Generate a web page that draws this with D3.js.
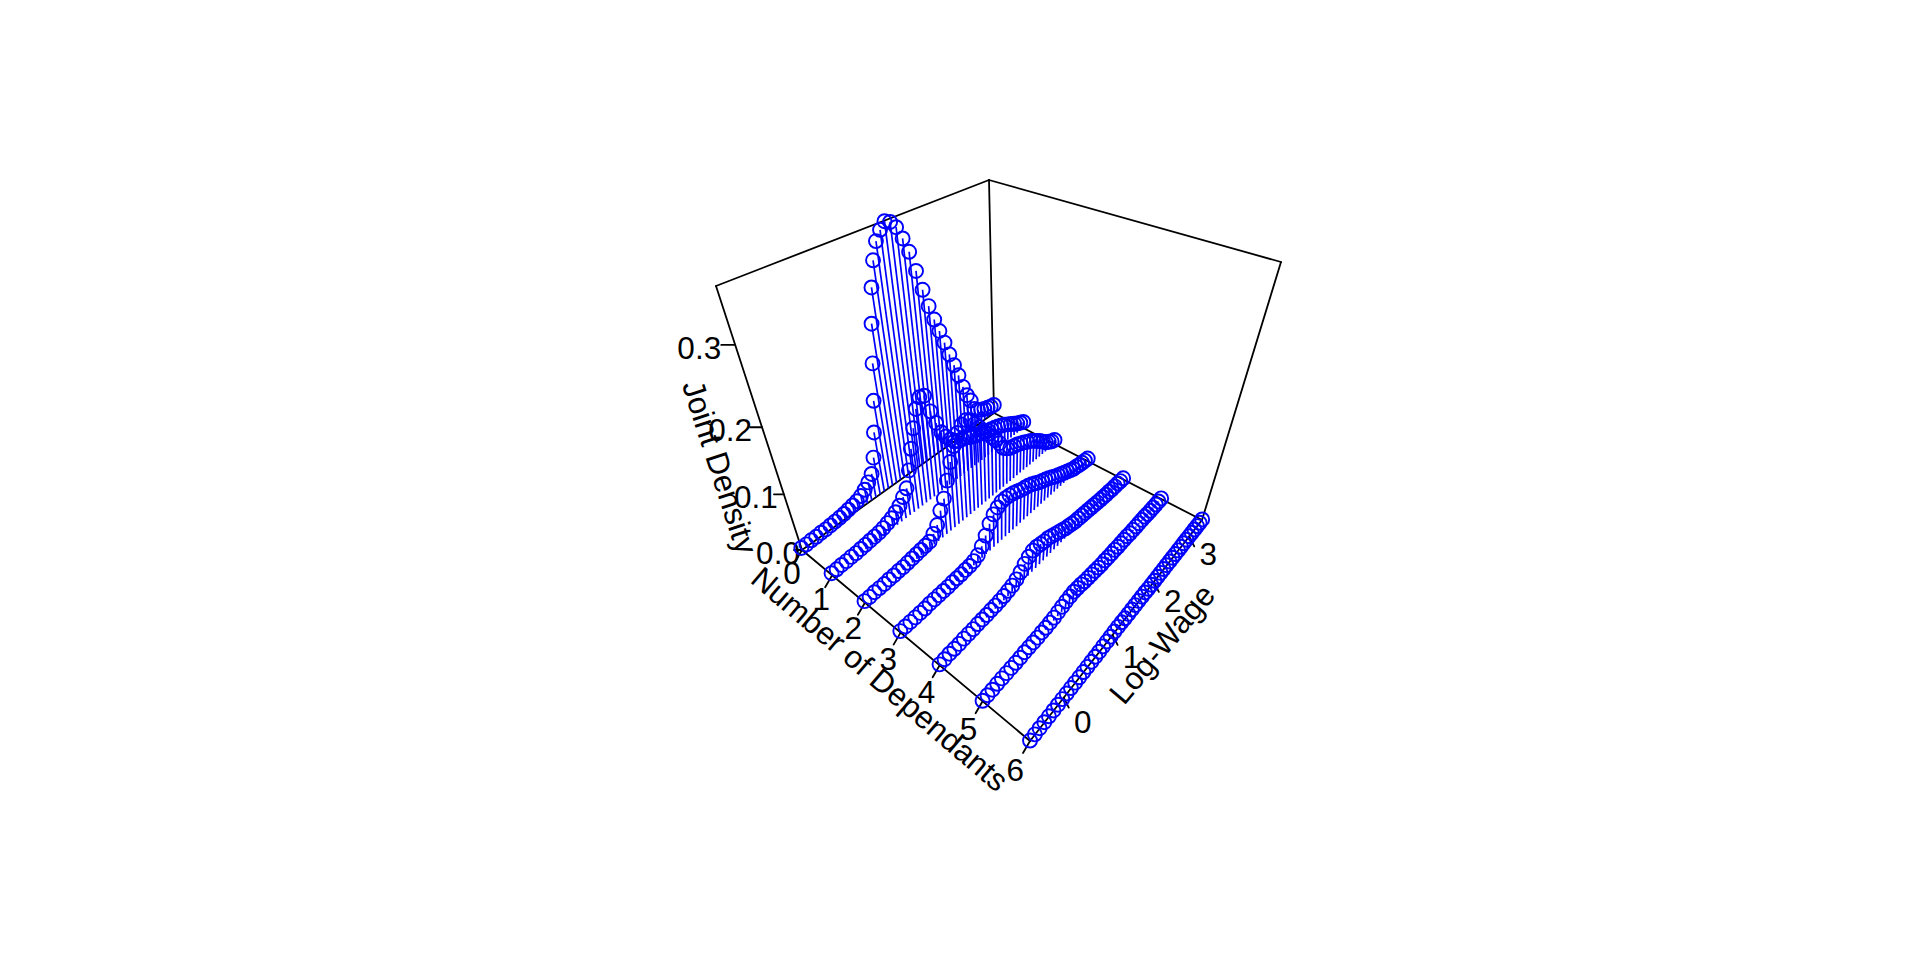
<!DOCTYPE html>
<html><head><meta charset="utf-8">
<script src="https://cdn.jsdelivr.net/npm/d3@7"></script>
<style>html,body{margin:0;padding:0;background:#fff}svg{display:block}text{font-family:"Liberation Sans",Arial,sans-serif;fill:#000}</style>
</head><body><svg id="c" width="1920" height="960"></svg>
<script>
const dependants=[0,1,2,3,4,5,6];
const density0=[.004,.004,.005,.005,.006,.006,.007,.008,.009,.010,.012,.014,.016,.02,.026,.034,.044,.068,.106,.152,.203,.253,.295,.324,.343,.353,.36,.357,.349,.334,.316,.29,.263,.238,.216,.196,.175,.153,.132,.111,.087,.068,.054,.034,.028,.024,.021,.019,.017,.016];
const density1=[.004,.004,.005,.005,.006,.006,.007,.008,.009,.01,.011,.013,.016,.019,.024,.03,.04,.05,.076,.107,.135,.16,.173,.171,.143,.12,.10,.088,.078,.07,.066,.064,.062,.058,.055,.052,.05,.048,.046,.044,.042,.04,.037,.034,.03,.026,.022,.018,.015,.012];
const density2=[.003,.003,.004,.004,.004,.005,.005,.006,.006,.007,.008,.009,.01,.011,.012,.02,.03,.05,.065,.09,.115,.135,.15,.158,.16,.155,.145,.135,.125,.115,.105,.095,.085,.072,.066,.062,.06,.058,.055,.052,.048,.045,.04,.035,.03,.024,.018,.014,.01,.008];
const density3=[.003,.003,.003,.003,.003,.003,.004,.004,.004,.004,.004,.005,.005,.005,.006,.006,.008,.012,.022,.035,.05,.06,.066,.07,.07,.069,.067,.064,.061,.059,.057,.054,.05,.046,.043,.04,.037,.033,.029,.026,.023,.02,.017,.014,.011,.01,.008,.007,.006,.005];
const density4=[.002,.002,.003,.003,.003,.004,.004,.004,.005,.005,.005,.006,.006,.007,.008,.01,.012,.016,.022,.03,.036,.04,.04,.038,.036,.035,.032,.029,.026,.023,.02,.018,.016,.014,.013,.012,.011,.01,.009,.008,.007,.006,.005,.004,.004,.003,.003,.003,.002,.002];
const density5=[.001,.001,.001,.002,.002,.002,.002,.002,.002,.003,.003,.003,.003,.004,.004,.005,.006,.008,.01,.012,.013,.014,.013,.012,.01,.009,.008,.007,.006,.005,.005,.004,.004,.004,.003,.003,.003,.003,.002,.002,.002,.002,.002,.002,.001,.001,.001,.001,.001,.001];
const density6=[.001,.001,.001,.001,.001,.001,.001,.001,.001,.001,.001,.001,.001,.001,.001,.001,.001,.002,.002,.002,.003,.003,.003,.002,.002,.002,.002,.002,.002,.002,.001,.001,.001,.001,.001,.001,.001,.001,.001,.001,.001,.001,.001,.001,.001,.001,.001,.001,.001,.001];
const densities=[density0,density1,density2,density3,density4,density5,density6];
const wageTicks=[0,1,2,3];
const densityTicks=[0,0.1,0.2,0.3];
const wageRange=[-0.6,3.4];
const densityMax=0.36;

const A=[802,550],B=[1030,741],C=[1202,520],D=[994,413];
const At=[716,286],Ct=[1281,262],Dt=[989,180];

const sDep=d3.scaleLinear().domain([0,6]).range([0,1]);
const sWage=d3.scaleLinear().domain(wageRange).range([0,1]);
const sZ=d3.scaleLinear().domain([0,densityMax]).range([0,1]);

const dx1=B[0]-C[0],dx2=D[0]-C[0],dx3=A[0]-B[0]+C[0]-D[0];
const dy1=B[1]-C[1],dy2=D[1]-C[1],dy3=A[1]-B[1]+C[1]-D[1];
const den=dx1*dy2-dx2*dy1;
const g=(dx3*dy2-dx2*dy3)/den,h=(dx1*dy3-dx3*dy1)/den;
const a=B[0]-A[0]+g*B[0],b=D[0]-A[0]+h*D[0],c=A[0];
const d=B[1]-A[1]+g*B[1],e=D[1]-A[1]+h*D[1],f=A[1];
function hom(u,v){return [a*u+b*v+c,d*u+e*v+f,g*u+h*v+1];}
const rows=[],rhs=[];
[[At,0,0],[Dt,0,1],[Ct,1,1]].forEach(([P,u,v])=>{
  const H=hom(u,v);
  rows.push([1,0,-P[0]]);rhs.push(P[0]*H[2]-H[0]);
  rows.push([0,1,-P[1]]);rhs.push(P[1]*H[2]-H[1]);
});
const N=[0,1,2].map(i=>[0,1,2].map(j=>d3.sum(rows,r=>r[i]*r[j])).concat(d3.sum(rows,(r,k)=>r[i]*rhs[k])));
for(let i=0;i<3;i++){
  for(let k=0;k<3;k++){ if(k===i) continue; const m=N[k][i]/N[i][i]; for(let j=i;j<4;j++) N[k][j]-=m*N[i][j]; }
}
const zc=[N[0][3]/N[0][0],N[1][3]/N[1][1],N[2][3]/N[2][2]];
function raw(u,v,t){
  const H=hom(u,v),w=H[2]+zc[2]*t;
  return [(H[0]+zc[0]*t)/w,(H[1]+zc[1]*t)/w];
}
const resid=(P,u,v)=>{const q=raw(u,v,1);return [P[0]-q[0],P[1]-q[1]];};
const rA=resid(At,0,0),rD=resid(Dt,0,1),rC=resid(Ct,1,1);
function proj(dep,wage,z){
  const u=sDep(dep),v=sWage(wage),t=sZ(z),q=raw(u,v,t);
  return [0,1].map(i=>q[i]+t*((1-v)*rA[i]+v*((1-u)*rD[i]+u*rC[i])));
}
const [wMin,wMax]=wageRange;
const grid=d3.range(50).map(i=>wMin+(wMax-wMin)*i/49);

const svg=d3.select("#c");
const ink=svg.append("g").attr("stroke","#000").attr("stroke-width",1.8).attr("fill","none").attr("stroke-linecap","round");
const seg=(p,q)=>ink.append("line").attr("x1",p[0]).attr("y1",p[1]).attr("x2",q[0]).attr("y2",q[1]);
const corners=[[0,wMin,0,0,wMax,0],[0,wMax,0,6,wMax,0],[0,wMin,0,6,wMin,0],[6,wMin,0,6,wMax,0],
 [0,wMin,0,0,wMin,densityMax],[0,wMax,0,0,wMax,densityMax],[6,wMax,0,6,wMax,densityMax],
 [0,wMin,densityMax,0,wMax,densityMax],[0,wMax,densityMax,6,wMax,densityMax]];
corners.forEach(k=>seg(proj(k[0],k[1],k[2]),proj(k[3],k[4],k[5])));

const label=(x,y,s,rot)=>svg.append("text").attr("text-anchor","middle").attr("dominant-baseline","central")
  .attr("font-size",31.5).attr("transform",`translate(${x},${y}) rotate(${rot||0})`).text(s);

densityTicks.forEach(v=>{
  const p=proj(0,wMin,v);
  seg(p,[p[0]-(8+20*v),p[1]]);
  label(p[0]-(24+40*v),p[1]+3,v.toFixed(1));
});
dependants.forEach(v=>{
  const p=proj(v,wMin,0),q=[p[0]-7,p[1]+12];
  seg(p,q);
  label(p[0]-(10+0.8*v),p[1]+23+v,String(v));
});
wageTicks.forEach(v=>{
  const p=proj(6,v,0);
  seg(p,[p[0]+5,p[1]+10]);
  label(p[0]+19,p[1]+24-2.2*v,String(v));
});
label(720,467,"Joint Density",72);
label(880,679,"Number of Dependants",40.5);
label(1162,644,"Log-Wage",-50);

const marks=svg.append("g").attr("stroke","#00f").attr("fill","none");
dependants.forEach((dep,k)=>{
  const s=marks.append("g");
  densities[k].forEach((v,i)=>{
    const p=proj(dep,grid[i],v),q=proj(dep,grid[i],0);
    s.append("line").attr("x1",p[0]).attr("y1",p[1]).attr("x2",q[0]).attr("y2",q[1]).attr("stroke-width",1.7);
    s.append("circle").attr("cx",p[0]).attr("cy",p[1]).attr("r",7).attr("stroke-width",1.9);
  });
});
</script></body></html>
